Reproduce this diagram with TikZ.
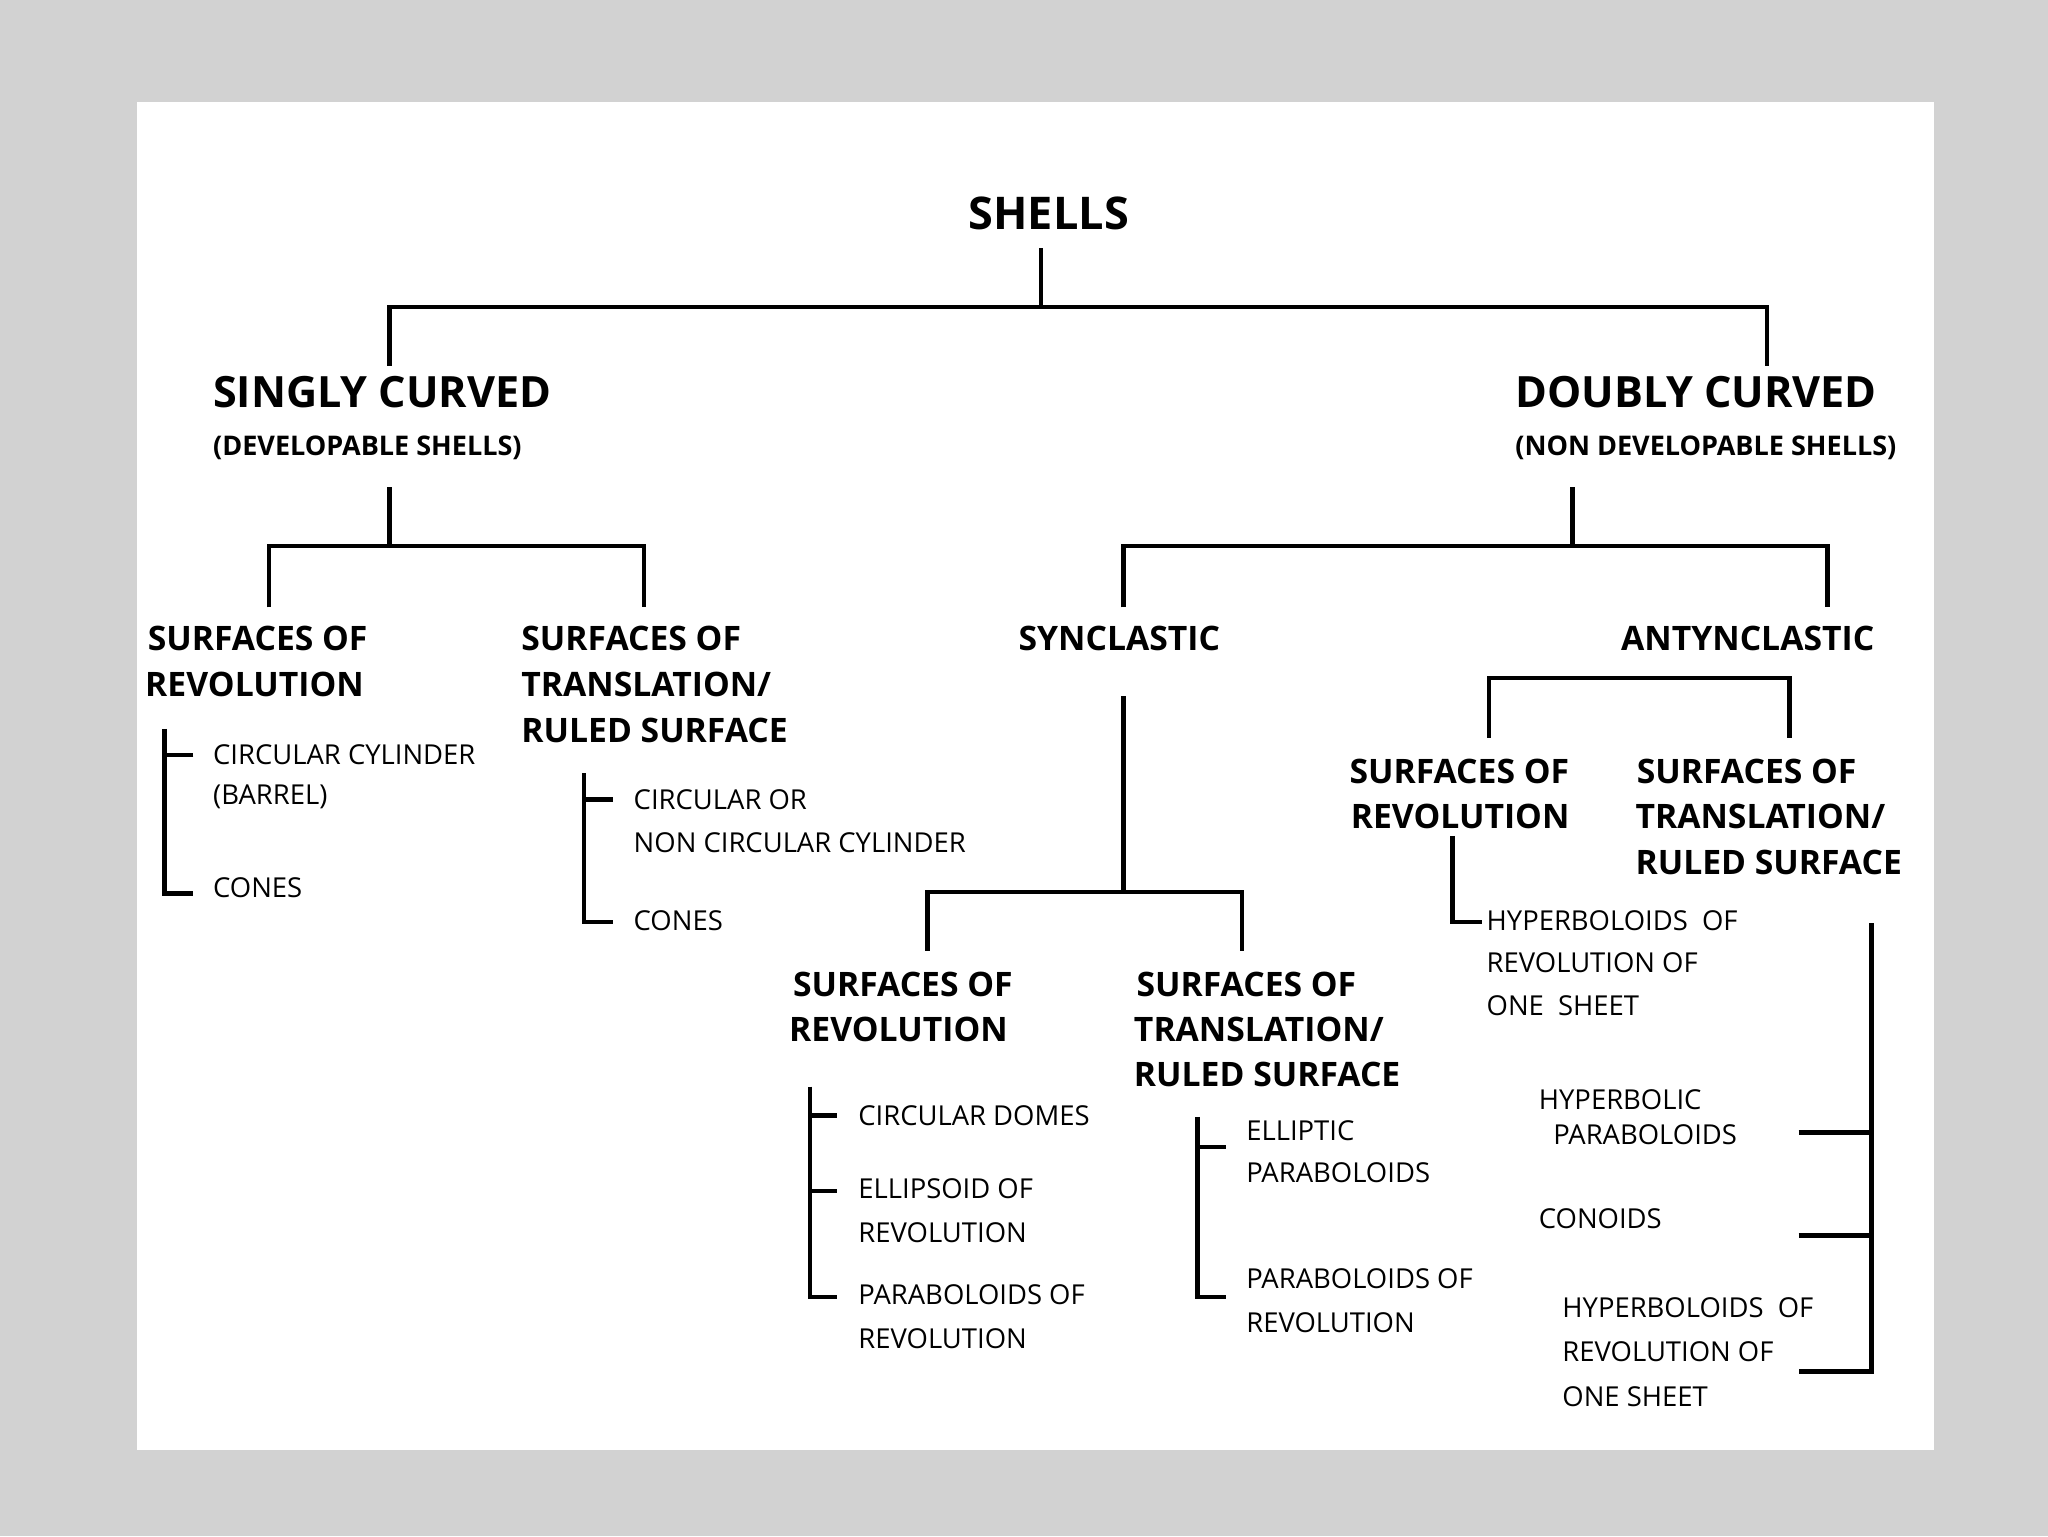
\documentclass[tikz,border=0pt]{standalone}
\usepackage{fontspec}
\setmainfont{Open Sans}
\begin{document}
\begin{tikzpicture}[x=1pt,y=-1pt,
  ln/.style={line width=3.5pt},
  big/.style={anchor=west,inner sep=0pt,font=\fontsize{33}{36}\selectfont\bfseries},
  sub/.style={anchor=west,inner sep=0pt,font=\fontsize{20.7}{24}\selectfont\bfseries},
  hd/.style={anchor=west,inner sep=0pt,font=\fontsize{25.8}{28}\selectfont\bfseries},
  it/.style={anchor=west,inner sep=0pt,font=\fontsize{21}{24}\selectfont}]
\useasboundingbox (0,0) rectangle (1568,1176);
\fill[gray!35] (0,0) rectangle (1568,1176);
\fill[white] (105,78) rectangle (1481,1110);
% texts
\node[big,anchor=center,font=\fontsize{34.5}{38}\selectfont\bfseries] (shells) at (803,163) {SHELLS};
\node[big] (sc) at (163,300) {SINGLY CURVED};
\node[sub] (scs) at (163,343) {(DEVELOPABLE SHELLS)};
\node[big] (dc) at (1160,300) {DOUBLY CURVED};
\node[sub] (dcs) at (1160,343) {(NON DEVELOPABLE SHELLS)};
\node[hd] (a1) at (113,489) {SURFACES OF};
\node[hd] (a2) at (111,524) {REVOLUTION};
\node[hd] (b1) at (399,489) {SURFACES OF};
\node[hd] (b2) at (399,524) {TRANSLATION/};
\node[hd] (b3) at (399,559) {RULED SURFACE};
\node[it] at (163,578) {CIRCULAR CYLINDER};
\node[it] at (163,610) {(BARREL)};
\node[it] at (163,680) {CONES};
\node[it] at (485,612) {CIRCULAR OR};
\node[it] at (485,645) {NON CIRCULAR CYLINDER};
\node[it] at (485,705) {CONES};
\node[hd,anchor=center] (syn) at (857,489) {SYNCLASTIC};
\node[hd] (ant) at (1241,489) {ANTYNCLASTIC};
\node[hd] at (607,754) {SURFACES OF};
\node[hd] at (604,788) {REVOLUTION};
\node[hd] at (870,754) {SURFACES OF};
\node[hd] at (868,788) {TRANSLATION/};
\node[hd] at (868,823) {RULED SURFACE};
\node[it] at (657,854) {CIRCULAR DOMES};
\node[it] at (657,910) {ELLIPSOID OF};
\node[it] at (657,944) {REVOLUTION};
\node[it] at (657,991) {PARABOLOIDS OF};
\node[it] at (657,1025) {REVOLUTION};
\node[it] at (954,866) {ELLIPTIC};
\node[it] at (954,898) {PARABOLOIDS};
\node[it] at (954,979) {PARABOLOIDS OF};
\node[it] at (954,1013) {REVOLUTION};
\node[hd] at (1033,591) {SURFACES OF};
\node[hd] at (1034,625) {REVOLUTION};
\node[hd] at (1253,591) {SURFACES OF};
\node[hd] at (1252,625) {TRANSLATION/};
\node[hd] at (1252,660) {RULED SURFACE};
\node[it] at (1138,705) {HYPERBOLOIDS\ \ OF};
\node[it] at (1138,737) {REVOLUTION OF};
\node[it] at (1138,770) {ONE\ \ SHEET};
\node[it] at (1178,842) {HYPERBOLIC};
\node[it] at (1189,869) {PARABOLOIDS};
\node[it] at (1178,933) {CONOIDS};
\node[it] at (1196,1001) {HYPERBOLOIDS\ \ OF};
\node[it] at (1196,1035) {REVOLUTION OF};
\node[it] at (1196,1069) {ONE SHEET};
% connectors
\draw[ln] (797,190) -- (797,235);
\draw[ln] (298,280) -- (298,235) -- (1353,235) -- (1353,280);
\draw[ln] (298,373) -- (298,418);
\draw[ln] (206,465) -- (206,418) -- (493,418) -- (493,465);
\draw[ln] (148,578) -- (126,578);
\draw[ln] (126,558) -- (126,684) -- (148,684);
\draw[ln] (469,612) -- (447,612);
\draw[ln] (447,592) -- (447,706) -- (469,706);
\draw[ln] (1204,373) -- (1204,418);
\draw[ln] (860,465) -- (860,418) -- (1399,418) -- (1399,465);
\draw[ln] (860,533) -- (860,683);
\draw[ln] (710,728) -- (710,683) -- (951,683) -- (951,728);
\draw[ln] (620,832) -- (620,993) -- (641,993);
\draw[ln] (620,854) -- (641,854);
\draw[ln] (620,912) -- (641,912);
\draw[ln] (917,855) -- (917,993) -- (939,993);
\draw[ln] (917,878) -- (939,878);
\draw[ln] (1140,565) -- (1140,519) -- (1370,519) -- (1370,565);
\draw[ln] (1112,640) -- (1112,706) -- (1135,706);
\draw[ln] (1433,707) -- (1433,1050) -- (1377,1050);
\draw[ln] (1377,867) -- (1433,867);
\draw[ln] (1377,946) -- (1433,946);
\end{tikzpicture}
\end{document}
